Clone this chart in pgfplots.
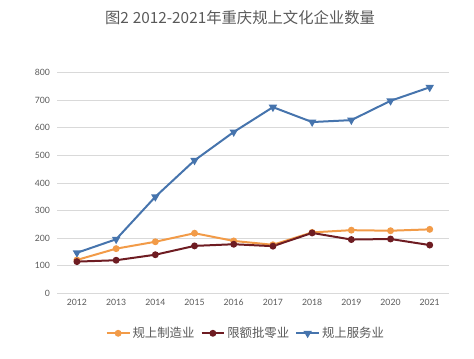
\documentclass[border=0pt]{standalone}
\usepackage{fontspec}
\setmainfont{Lato}
\newfontfamily\cjk{Noto Sans CJK SC}
\usepackage{pgfplots}
\pgfplotsset{compat=1.18}
\definecolor{cOr}{HTML}{F29B48}
\definecolor{cDr}{HTML}{6E1C22}
\definecolor{cBl}{HTML}{4674AD}
\definecolor{cGrid}{HTML}{D9D9D9}
\definecolor{cTxt}{HTML}{595959}
\begin{document}
\begin{tikzpicture}
\useasboundingbox (0,0) rectangle (355.5pt,268.5pt);
\node[font=\cjk\fontsize{11.5}{13}\selectfont, text=cTxt] at (180pt,255.5pt) {图2\hspace{3pt}2012-2021年重庆规上文化企业数量};
\begin{axis}[
  at={(43pt,48.5pt)}, anchor=south west,
  scale only axis, width=294pt, height=165.5pt,
  xmin=2011.5, xmax=2021.5, ymin=0, ymax=800,
  xtick={2012,...,2021}, ytick={0,100,...,800},
  ymajorgrids, grid style={cGrid, line width=0.6pt},
  axis line style={draw=none},
  major tick length=0pt,
  /pgf/number format/assume math mode=true,
  /pgf/number format/1000 sep={},
  tick label style={font=\fontsize{6.5}{8}\selectfont, text=cTxt},
  yticklabel style={xshift=-2pt},
  xticklabel style={yshift=-1pt},
  legend columns=3,
  legend style={at={(0.481,-0.181)}, anchor=center, draw=none, fill=none,
    font=\cjk\fontsize{9.3}{10}\selectfont, text=cTxt,
    nodes={inner sep=1.5pt},
    /tikz/every even column/.append style={column sep=3pt}},
  every axis plot/.append style={line width=1.5pt},
]
\addplot[color=cOr, mark=*, mark size=1.8pt] coordinates {
(2012,121) (2013,162) (2014,187) (2015,218) (2016,190) (2017,176) (2018,221) (2019,229) (2020,227) (2021,232)};
\addlegendentry{规上制造业}
\addplot[color=cDr, mark=*, mark size=1.8pt] coordinates {
(2012,115) (2013,120) (2014,140) (2015,172) (2016,178) (2017,171) (2018,219) (2019,195) (2020,197) (2021,175)};
\addlegendentry{限额批零业}
\addplot[color=cBl, mark=triangle*, mark size=2.2pt, mark options={rotate=180}] coordinates {
(2012,147) (2013,196) (2014,350) (2015,482) (2016,585) (2017,675) (2018,621) (2019,628) (2020,698) (2021,747)};
\addlegendentry{规上服务业}
\end{axis}
\end{tikzpicture}
\end{document}
